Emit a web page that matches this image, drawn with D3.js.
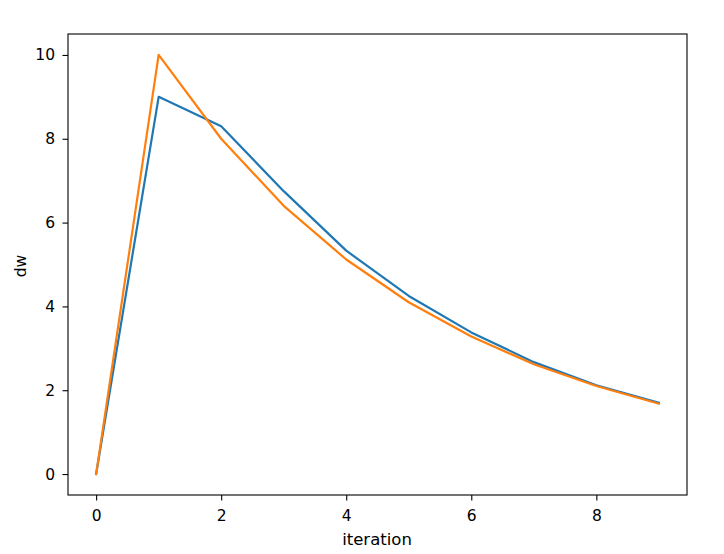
<!DOCTYPE html>
<html>
<head>
<meta charset="utf-8">
<script src="https://cdn.jsdelivr.net/npm/d3@7"></script>
<style>
  html, body { margin: 0; padding: 0; background: #fff; }
  svg { display: block; }
  text { font-family: "DejaVu Sans", sans-serif; }
</style>
</head>
<body>
<script>
const iterations = [0, 1, 2, 3, 4, 5, 6, 7, 8, 9];
const seriesBlue = [0, 9.0, 8.3, 6.75, 5.33, 4.25, 3.38, 2.67, 2.12, 1.70];
const seriesOrange = [0, 10.0, 8.0, 6.4, 5.12, 4.1, 3.28, 2.62, 2.1, 1.68];
const xTicks = [0, 2, 4, 6, 8];
const yTicks = [0, 2, 4, 6, 8, 10];
const colors = ["#1f77b4", "#ff7f0e"];

const W = 724, H = 554;
const mLeft = 68, mRight = 687, mTop = 34, mBottom = 495;

const svg = d3.select("body").append("svg").attr("width", W).attr("height", H);

const x = d3.scaleLinear().domain([-0.45, 9.45]).range([mLeft, mRight]);
const y = d3.scaleLinear().domain([-0.5, 10.5]).range([mBottom, mTop]);

const line = d3.line().x((d, i) => x(iterations[i])).y(d => y(d));

[seriesBlue, seriesOrange].forEach((s, k) => {
  svg.append("path").datum(s)
    .attr("d", line)
    .attr("fill", "none")
    .attr("stroke", colors[k])
    .attr("stroke-width", 2.2)
    .attr("stroke-linejoin", "round")
    .attr("stroke-linecap", "square");
});

const xAxis = d3.axisBottom(x).tickValues(xTicks).tickSize(5.5).tickPadding(9.5).tickFormat(d3.format("d"));
const yAxis = d3.axisLeft(y).tickValues(yTicks).tickSize(5.5).tickPadding(7.5).tickFormat(d3.format("d"));

const gx = svg.append("g").attr("transform", `translate(0,${mBottom})`).call(xAxis);
const gy = svg.append("g").attr("transform", `translate(${mLeft},0)`).call(yAxis);
[gx, gy].forEach(g => {
  g.select(".domain").remove();
  g.selectAll(".tick line").attr("stroke", "#000").attr("stroke-width", 1.1);
  g.selectAll(".tick text").attr("font-size", 15.5).attr("fill", "#000")
    .attr("font-family", "DejaVu Sans, sans-serif");
});

svg.append("rect")
  .attr("x", mLeft).attr("y", mTop)
  .attr("width", mRight - mLeft).attr("height", mBottom - mTop)
  .attr("fill", "none").attr("stroke", "#000").attr("stroke-width", 1.1);

svg.append("text")
  .attr("x", 377).attr("y", 545)
  .attr("text-anchor", "middle").attr("font-size", 16.5).attr("fill", "#000")
  .text("iteration");

svg.append("text")
  .attr("transform", `translate(26,266) rotate(-90)`)
  .attr("text-anchor", "middle").attr("font-size", 15.5).attr("fill", "#000")
  .text("dw");
</script>
</body>
</html>
